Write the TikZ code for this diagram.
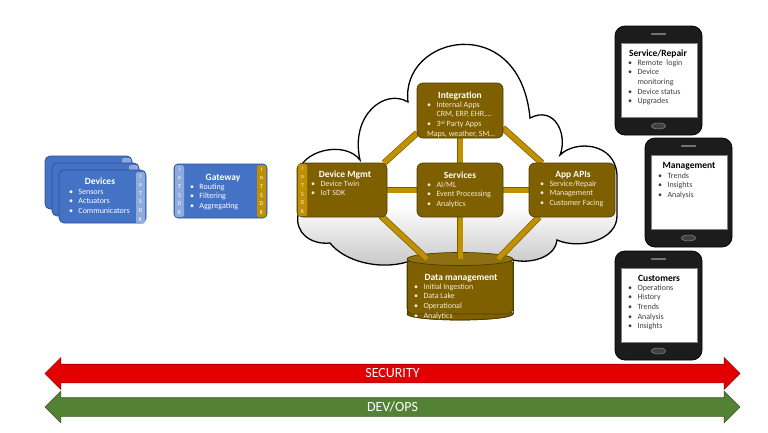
\documentclass[tikz,border=0pt]{standalone}
\usepackage{fontspec}
\setmainfont{Carlito}
\usetikzlibrary{calc,shapes.arrows}
\pgfdeclarelayer{cloudlayer}
\pgfdeclarelayer{connlayer}
\pgfsetlayers{cloudlayer,connlayer,main}

\definecolor{devblue}{HTML}{4472C4}
\definecolor{devblueD}{HTML}{2F528F}
\definecolor{sdkblue}{HTML}{8FAADC}
\definecolor{brownbox}{HTML}{7F6000}
\definecolor{brownD}{HTML}{4F3C00}
\definecolor{browntop}{HTML}{8E7012}
\definecolor{gold}{HTML}{BF9000}
\definecolor{goldD}{HTML}{7A5C00}
\definecolor{cream}{HTML}{F4ECD6}
\definecolor{secred}{HTML}{E20000}
\definecolor{secredD}{HTML}{A00000}
\definecolor{opsgreen}{HTML}{548235}
\definecolor{opsgreenD}{HTML}{3A5A24}
\definecolor{phoneblk}{HTML}{1C1C1C}

\newlength{\bw}
\setlength{\bw}{9.5pt}
\newcommand{\itm}[1]{\makebox[\bw][l]{\textbullet}#1\\}
\newcommand{\cnt}[1]{\hspace*{\bw}#1\\}
\newcommand{\sdkletters}{\begin{tabular}{@{}c@{}}I\\o\\T\\S\\D\\K\end{tabular}}
\newcommand{\lstb}[1]{\begin{tabular}{@{}l@{}}#1\end{tabular}}
\newcommand{\cloudpath}{(298,175)
  .. controls (300,150) and (345,140) .. (360,160)
  .. controls (350,115) and (385,88) .. (408,102)
  .. controls (400,35) and (520,10) .. (530,118)
  .. controls (555,105) and (568,135) .. (560,155)
  .. controls (575,140) and (615,142) .. (617,175)
  -- (617,215)
  .. controls (618,240) and (580,250) .. (557,240)
  .. controls (555,258) and (530,264) .. (513,260)
  -- (407,262)
  .. controls (380,270) and (345,262) .. (330,243)
  .. controls (310,245) and (295,232) .. (298,215)
  -- cycle}

\begin{document}
\begin{tikzpicture}[x=1pt,y=-1pt,
  every node/.style={inner sep=0pt,outer sep=0pt},
  devcard/.style={draw=devblueD,fill=devblue,rounded corners=5pt,line width=0.7pt,anchor=north west,minimum width=87pt,minimum height=53pt},
  sdkstrip/.style={fill=#1,rounded corners=1.5pt,anchor=north west,minimum width=9pt,text=white,font=\fontsize{6}{8.6}\selectfont},
  bluebox/.style={draw=devblueD,fill=devblue,rounded corners=4pt,line width=0.7pt,anchor=north west,minimum width=93pt,minimum height=54pt},
  brownbox/.style={draw=brownD,fill=brownbox,rounded corners=6pt,line width=0.7pt,anchor=north west,minimum height=54pt},
  ttl/.style={anchor=base,font=\fontsize{9.5}{11}\selectfont\bfseries,text=white},
  lst/.style={anchor=north west,font=\fontsize{8}{9.7}\selectfont,text=white},
  blst/.style={lst,text=cream},
  conn/.style={draw=goldD,line width=0.7pt,double=gold,double distance=5pt},
  phone/.style={draw=black,fill=phoneblk,rounded corners=10pt,line width=0.8pt,anchor=north west,minimum width=87pt,minimum height=109pt},
  screen/.style={draw=black!50,fill=white,line width=0.5pt,anchor=north west,minimum width=76pt,minimum height=74pt},
  pttl/.style={ttl,text=black},
  plst/.style={lst,text=black!75},
  bigarrow/.style={double arrow,double arrow head extend=6.5pt,minimum height=695pt,inner xsep=4pt,inner ysep=3.5pt,text height=9.5pt,text depth=1.5pt,text=white,font=\fontsize{14}{16}\selectfont,line width=0.6pt}
]
\useasboundingbox (0,0) rectangle (768,432);

% ---------- Devices ----------
\node[devcard] (dev3) at (45,156) {};
\node[sdkstrip=sdkblue,minimum height=49pt] (dev3sdk) at (122,158) {};
\node[devcard] (dev2) at (52,163) {};
\node[sdkstrip=sdkblue,minimum height=49pt] (dev2sdk) at (129,165) {};
\node[devcard] (dev1) at (59,170) {};
\node[sdkstrip=sdkblue,minimum height=49pt] (dev1sdk) at (136,172) {\sdkletters};
\node[ttl] (devttl) at (100,184.2) {Devices};
\node[lst] (devlst) at (69,187.4) {\lstb{\itm{Sensors}\itm{Actuators}\itm{Communicators}}};

% ---------- Gateway ----------
\node[bluebox] (gw) at (174,164) {};
\node[sdkstrip=sdkblue,minimum height=52pt] (gwsdkl) at (175,165) {\sdkletters};
\node[sdkstrip=gold,minimum height=52pt] (gwsdkr) at (257,165) {\sdkletters};
\node[ttl] (gwttl) at (223,180.2) {Gateway};
\node[lst] (gwlst) at (190,182.4) {\lstb{\itm{Routing}\itm{Filtering}\itm{Aggregating}}};

% ---------- Cloud boxes ----------
\node[brownbox,minimum width=86pt,minimum height=55pt] (integ) at (417,83) {};
\node[ttl] (integttl) at (460,98.2) {Integration};
\node[blst] (integlst) at (427,100.4) {\lstb{\itm{Internal Apps}\cnt{CRM, ERP, EHR,…}\itm{3\raisebox{2.5pt}{\fontsize{5}{5}\selectfont rd} Party Apps}Maps, weather, SM…\\}};

\node[brownbox,minimum width=90pt] (devm) at (297,163) {};
\node[sdkstrip=gold,minimum height=52pt,text=cream] (devmsdk) at (298,164) {\sdkletters};
\node[ttl] (devmttl) at (345,177.2) {Device Mgmt};
\node[blst] (devmlst) at (311,179.4) {\lstb{\itm{Device Twin}\itm{IoT SDK}}};

\node[brownbox,minimum width=86pt] (serv) at (417,163) {};
\node[ttl] (servttl) at (460,178.2) {Services};
\node[blst] (servlst) at (427,180.4) {\lstb{\itm{AI/ML}\itm{Event Processing}\itm{Analytics}}};

\node[brownbox,minimum width=86pt] (apps) at (529,163) {};
\node[ttl] (appsttl) at (573,177.2) {App APIs};
\node[blst] (appslst) at (540,179.4) {\lstb{\itm{Service/Repair}\itm{Management}\itm{Customer Facing}}};

\node[anchor=north west,minimum width=106pt,minimum height=55pt] (data) at (407,259) {};
\node[ttl] (datattl) at (461,280.2) {Data management};
\node[blst] (datalst) at (414,282.4) {\lstb{\itm{Initial Ingestion}\itm{Data Lake}\itm{Operational}\itm{Analytics}}};

% ---------- cloud and cylinder ----------
\begin{pgfonlayer}{cloudlayer}
\fill[white] \cloudpath;
\begin{scope}
  \clip \cloudpath;
  \shade[top color=white,bottom color=black!24] (290,205) rectangle (625,272);
\end{scope}
\draw[black,line width=1.3pt] \cloudpath;
\fill[brownbox] (data.south) ellipse [x radius=53,y radius=6];
\draw[brownD,line width=0.7pt] (data.south) ellipse [x radius=53,y radius=6];
\fill[brownbox] (data.north west) rectangle (data.south east);
\draw[brownD,line width=0.7pt] (data.north west) -- (data.south west);
\draw[brownD,line width=0.7pt] (data.north east) -- (data.south east);
\filldraw[fill=browntop,draw=brownD,line width=0.7pt] (data.north) ellipse [x radius=53,y radius=6.5];
\end{pgfonlayer}

% ---------- connectors ----------
\begin{pgfonlayer}{connlayer}
\draw[conn] (integ.south) -- (serv.north);
\draw[conn] (serv.south) -- (data.north);
\draw[conn] (devm.east) -- (serv.west);
\draw[conn] (serv.east) -- (apps.west);
\draw[conn] ($(integ.south west)+(0,-5)$) -- ($(devm.north east)+(-3,0)$);
\draw[conn] ($(integ.south east)+(0,-10)$) -- ($(apps.north west)+(13,0)$);
\draw[conn] ($(devm.south east)+(-6,-1)$) -- ($(data.north)+(-33,0)$);
\draw[conn] ($(apps.south west)+(10,0)$) -- ($(data.north)+(38,0)$);
\end{pgfonlayer}

% ---------- Phones ----------
\node[phone] (ph1) at (615,26) {};
\node[screen] (scr1) at (621,43) {};
\draw[black!55,line width=1.2pt,line cap=round] ($(ph1.north)+(-7,8)$) -- ($(ph1.north)+(7,8)$);
\filldraw[fill=black!75,draw=black!45,line width=0.5pt] ($(ph1.south)+(0,-9)$) ellipse [x radius=7,y radius=3];
\node[pttl] (ph1ttl) at (658,56.2) {Service/Repair};
\node[plst] (ph1lst) at (628,58.4) {\lstb{\itm{Remote\ \ login}\itm{Device}\cnt{monitoring}\itm{Device status}\itm{Upgrades}}};

\node[phone] (ph2) at (645,138) {};
\node[screen] (scr2) at (651,155) {};
\draw[black!55,line width=1.2pt,line cap=round] ($(ph2.north)+(-7,8)$) -- ($(ph2.north)+(7,8)$);
\filldraw[fill=black!75,draw=black!45,line width=0.5pt] ($(ph2.south)+(0,-9)$) ellipse [x radius=7,y radius=3];
\node[pttl] (ph2ttl) at (689,168.2) {Management};
\node[plst] (ph2lst) at (658,171.4) {\lstb{\itm{Trends}\itm{Insights}\itm{Analysis}}};

\node[phone] (ph3) at (615,251) {};
\node[screen] (scr3) at (621,268) {};
\draw[black!55,line width=1.2pt,line cap=round] ($(ph3.north)+(-7,8)$) -- ($(ph3.north)+(7,8)$);
\filldraw[fill=black!75,draw=black!45,line width=0.5pt] ($(ph3.south)+(0,-9)$) ellipse [x radius=7,y radius=3];
\node[pttl] (ph3ttl) at (659,281.2) {Customers};
\node[plst] (ph3lst) at (628,283.4) {\lstb{\itm{Operations}\itm{History}\itm{Trends}\itm{Analysis}\itm{Insights}}};

% ---------- Bottom arrows ----------
\node[bigarrow,fill=secred,draw=secredD] (sec) at (392.5,373.5) {SECURITY};
\node[bigarrow,fill=opsgreen,draw=opsgreenD] (ops) at (392.5,407) {DEV/OPS};
\end{tikzpicture}
\end{document}
